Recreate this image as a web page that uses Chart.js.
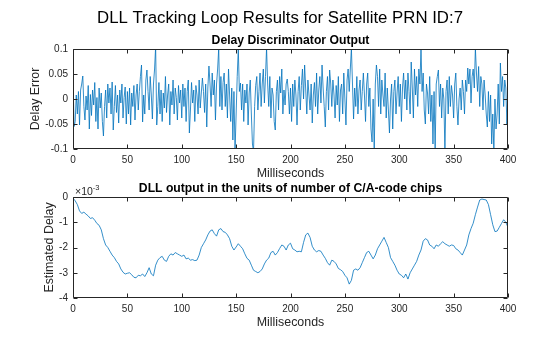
<!DOCTYPE html>
<html lang="en">
<head>
<meta charset="UTF-8">
<title>DLL Tracking Loop Results</title>
<script src="https://cdn.jsdelivr.net/npm/chart.js"></script>
<style>
    body {
        margin: 0;
        background: #fff;
        font-family: "Liberation Sans", Arial, sans-serif;
    }
    .figure {
        position: relative;
        width: 560px;
        height: 337px;
        background: #fff;
    }
    canvas {
        position: absolute;
        left: 0;
    }
    #discChart { top: 0; }
    #delayChart { top: 180px; }
</style>
</head>
<body>
<div class="figure">
    <canvas id="discChart" width="560" height="180"></canvas>
    <canvas id="delayChart" width="560" height="157"></canvas>
</div>

<script>
// sample times, ms
const discTimeMs = Array.from({ length: 401 }, (_, i) => i);      // every ms
const delayTimeMs = Array.from({ length: 201 }, (_, i) => i * 2); // every 2 ms

// delay discriminator output, one value per ms
const discriminator = [
    0.045, -0.055, -0.045, 0.008, -0.03, 0.015, -0.052, 0.018, 0.03, 0.046, -0.015, -0.042, 0.006, -0.022, 0.027, -0.06, 0.009, -0.033, 0.018, -0.012,
    0.033, -0.045, 0.003, -0.06, 0.022, -0.018, 0.012, -0.045, -0.074, -0.015, 0.018, -0.038, 0.03, -0.008, 0.022, -0.03, 0.034, -0.062, -0.015, 0.027,
    -0.027, 0.008, -0.048, 0.018, -0.008, 0.03, -0.038, 0.003, 0.024, -0.05, 0.015, -0.03, 0.022, -0.052, 0.012, -0.015, 0.027, -0.042, 0.008, 0.03,
    -0.022, 0.015, 0.045, 0.068, -0.046, 0.008, -0.03, 0.038, 0.058, 0.015, -0.022, 0.045, 0.008, -0.04, 0.03, 0.06, 0.105, -0.052, -0.015, 0.033,
    -0.03, 0.018, -0.045, 0.012, -0.018, 0.045, -0.027, 0.008, 0.03, -0.052, 0.015, -0.012, 0.038, -0.03, 0.022, 0.003, -0.042, 0.027, -0.008, 0.018,
    -0.038, 0.03, -0.015, 0.022, -0.045, 0.015, 0.038, -0.068, -0.022, 0.033, -0.008, 0.018, -0.045, 0.027, 0.008, -0.03, 0.038, -0.018, 0.012, 0.042,
    0.015, -0.027, 0.03, -0.056, 0.022, 0.066, 0.03, -0.015, 0.052, 0.008, 0.038, -0.042, 0.03, 0.06, 0.102, -0.015, 0.045, -0.022, 0.033, 0.052,
    -0.015, 0.03, -0.038, 0.06, 0.008, -0.045, 0.022, -0.082, 0.015, -0.105, -0.03, 0.045, 0.1, 0.015, 0.032, -0.022, 0.03, -0.045, 0.018, -0.008,
    0.03, -0.052, 0.012, 0.038, -0.03, -0.09, -0.105, -0.015, 0.027, 0.045, -0.022, 0.015, 0.052, -0.015, 0.03, 0.06, -0.008, 0.045, 0.102, 0.03,
    -0.015, 0.045, -0.038, 0.022, 0.008, -0.045, -0.062, 0.015, 0.038, -0.022, 0.045, 0.012, 0.06, -0.03, 0.018, -0.012, 0.03, 0.04, 0.015, -0.03,
    0.022, -0.045, 0.03, -0.015, 0.038, 0.008, -0.052, 0.015, 0.045, -0.022, 0.027, 0.06, 0.0, 0.068, 0.018, -0.03, 0.038, 0.008, -0.022, 0.03,
    -0.048, 0.008, 0.033, -0.015, 0.052, -0.03, 0.018, 0.045, -0.008, 0.068, 0.022, -0.015, -0.056, 0.015, 0.045, -0.022, 0.058, 0.03, -0.015, 0.038,
    0.008, -0.038, 0.027, -0.012, 0.045, -0.045, 0.018, 0.03, -0.03, 0.052, 0.0, -0.052, 0.038, 0.06, 0.015, 0.06, 0.102, 0.03, -0.04, 0.022,
    -0.015, 0.045, -0.03, 0.018, 0.038, -0.022, 0.015, 0.052, 0.008, -0.045, 0.03, 0.052, -0.015, 0.022, -0.06, -0.086, 0.0, -0.105, 0.03, 0.068,
    0.045, -0.015, 0.06, -0.03, 0.038, 0.008, -0.015, 0.052, -0.038, 0.022, -0.022, -0.068, 0.0, 0.03, -0.06, 0.015, 0.038, -0.03, 0.012, 0.045,
    -0.015, 0.03, -0.045, 0.022, 0.052, 0.0, 0.038, -0.022, 0.052, 0.015, -0.03, 0.074, 0.022, -0.038, 0.06, 0.008, 0.045, -0.015, 0.06, 0.03,
    0.102, 0.015, 0.052, -0.022, -0.05, 0.03, 0.012, -0.03, 0.045, -0.045, 0.008, -0.09, 0.015, -0.105, 0.03, 0.045, 0.058, -0.015, 0.03, -0.038,
    0.022, 0.0, -0.105, 0.015, 0.038, -0.03, 0.045, -0.015, 0.027, 0.008, -0.038, 0.03, 0.052, -0.015, -0.052, 0.0, 0.022, -0.022, 0.038, 0.015,
    -0.03, 0.038, 0.015, 0.062, 0.03, 0.06, -0.008, 0.045, 0.06, 0.022, 0.102, 0.052, 0.015, 0.065, -0.015, 0.045, 0.03, -0.022, 0.038, 0.008,
    -0.03, -0.056, 0.015, -0.045, 0.008, -0.09, -0.03, -0.105, 0.0, -0.06, -0.03, 0.03, -0.05, 0.072, 0.015, 0.045, -0.015, 0.038, 0.022, -0.05,
    0.0
];

// DLL output, units of 1e-3 chips, one value per 2 ms
const dllOutput = [
    -0.05, -0.15, -0.3, -0.55, -0.65, -0.6, -0.68, -0.75, -0.85, -0.82,
    -0.92, -1.05, -1.12, -1.3, -1.65, -1.9, -2.0, -2.15, -2.3, -2.4,
    -2.55, -2.65, -2.85, -2.98, -3.05, -3.02, -3.0, -3.08, -3.18, -3.2,
    -3.1, -3.12, -3.05, -3.15, -3.0, -2.8, -3.05, -3.12, -2.7, -2.5,
    -2.4, -2.35, -2.5, -2.55, -2.35, -2.25, -2.3, -2.2, -2.25, -2.3,
    -2.35, -2.3, -2.45, -2.42, -2.5, -2.48, -2.52, -2.5, -2.3, -2.0,
    -1.85, -1.7, -1.5, -1.35, -1.3, -1.45, -1.55, -1.3, -1.25, -1.37,
    -1.4, -1.5, -1.65, -1.95, -2.1, -1.98, -1.85, -1.95, -2.05, -2.25,
    -2.43, -2.5, -2.7, -2.9, -2.95, -3.0, -2.95, -2.85, -2.65, -2.5,
    -2.42, -2.2, -2.15, -2.3, -2.2, -2.04, -1.9, -1.95, -2.1, -1.9,
    -1.83, -2.05, -2.1, -2.17, -2.15, -2.17, -1.8, -1.5, -1.43, -1.6,
    -1.95, -2.1, -2.17, -2.12, -2.15, -2.3, -2.43, -2.6, -2.7, -2.5,
    -2.55, -2.65, -2.83, -2.88, -2.95, -3.1, -3.2, -3.45, -3.3, -2.9,
    -2.85, -2.9, -2.8, -2.6, -2.4, -2.2, -2.15, -2.3, -2.45, -2.3,
    -2.05, -1.9, -1.75, -1.6, -1.8, -2.0, -2.4, -2.55, -2.7, -2.9,
    -3.05, -3.1, -3.2, -3.05, -3.25, -3.0, -2.85, -2.7, -2.55, -2.3,
    -2.1, -1.75, -1.65, -1.7, -1.9, -1.95, -2.05, -1.9, -1.95, -1.85,
    -1.77, -1.85, -1.9, -1.95, -1.9, -1.92, -2.05, -2.1, -2.2, -2.3,
    -2.1, -1.9, -1.5, -1.25, -1.04, -0.7, -0.4, -0.12, -0.08, -0.1,
    -0.12, -0.3, -0.7, -1.1, -1.37, -1.35, -1.2, -1.05, -0.9, -1.0,
    -1.2
];

const xTicks = [0, 50, 100, 150, 200, 250, 300, 350, 400];
const discTicks = [-0.1, -0.05, 0, 0.05, 0.1];
const delayTicks = [-4, -3, -2, -1, 0];

const FONT = '"Liberation Sans", Arial, sans-serif';
const TEXT = '#262626';

// axes box, inward ticks and all the labels, MATLAB style
const matlabBox = {
    id: 'matlabBox',
    afterDraw(chart, args, opts) {
        const { ctx, chartArea: a, scales } = chart;
        const l = Math.round(a.left) + 0.5, r = Math.round(a.right) - 0.5;
        const t = Math.round(a.top) + 0.5, b = Math.round(a.bottom) - 0.5;
        ctx.save();
        ctx.strokeStyle = TEXT;
        ctx.lineWidth = 1;
        ctx.beginPath();
        ctx.rect(l, t, r - l, b - t);
        scales.x.ticks.forEach(tk => {
            const px = Math.round(scales.x.getPixelForValue(tk.value)) + 0.5;
            ctx.moveTo(px, b); ctx.lineTo(px, b - 4);
            ctx.moveTo(px, t); ctx.lineTo(px, t + 4);
        });
        scales.y.ticks.forEach(tk => {
            const py = Math.round(scales.y.getPixelForValue(tk.value)) + 0.5;
            ctx.moveTo(l, py); ctx.lineTo(l + 4, py);
            ctx.moveTo(r, py); ctx.lineTo(r - 4, py);
        });
        ctx.stroke();

        const cx = (a.left + a.right) / 2;
        ctx.textAlign = 'center';
        ctx.textBaseline = 'middle';

        if (opts.supTitle) {
            ctx.fillStyle = '#000';
            ctx.font = '16.8px ' + FONT;
            ctx.fillText(opts.supTitle, 280, 18);
        }
        ctx.fillStyle = '#000';
        ctx.font = 'bold 12.2px ' + FONT;
        ctx.fillText(opts.title, cx, a.top - 8);

        ctx.fillStyle = TEXT;
        ctx.font = '12.4px ' + FONT;
        ctx.fillText(opts.xLabel, cx, a.bottom + 25);

        ctx.save();
        ctx.translate(opts.yLabelX, (a.top + a.bottom) / 2);
        ctx.rotate(-Math.PI / 2);
        ctx.fillText(opts.yLabel, 0, 0);
        ctx.restore();

        if (opts.exponent) {
            ctx.textAlign = 'left';
            ctx.textBaseline = 'alphabetic';
            ctx.font = '10.5px ' + FONT;
            ctx.fillText('\u00d710', a.left + 2, a.top - 2);
            const w = ctx.measureText('\u00d710').width;
            ctx.font = '7.5px ' + FONT;
            ctx.fillText(opts.exponent, a.left + 2 + w, a.top - 7);
        }
        ctx.restore();
    }
};

function makeChart(id, times, values, yMin, yMax, yTicks, yFmt, padTop, xAxisH, box) {
    return new Chart(document.getElementById(id), {
        type: 'line',
        data: {
            datasets: [{
                data: values.map((v, i) => ({ x: times[i], y: v })),
                borderColor: '#0072BD',
                borderWidth: 0.8,
                pointRadius: 0,
                tension: 0,
                fill: false
            }]
        },
        options: {
            responsive: false,
            animation: false,
            events: [],
            layout: { padding: { top: padTop, right: 52, left: 0, bottom: 0 } },
            plugins: {
                legend: { display: false },
                tooltip: { enabled: false },
                matlabBox: box
            },
            scales: {
                x: {
                    type: 'linear',
                    min: 0,
                    max: 400,
                    grid: { display: false, drawTicks: false, tickLength: 0 },
                    border: { display: false },
                    afterBuildTicks: s => { s.ticks = xTicks.map(v => ({ value: v })); },
                    afterFit: s => { s.height = xAxisH; },
                    ticks: {
                        color: TEXT,
                        padding: 5,
                        maxRotation: 0,
                        font: { family: FONT, size: 10 }
                    }
                },
                y: {
                    min: yMin,
                    max: yMax,
                    grid: { display: false, drawTicks: false, tickLength: 0 },
                    border: { display: false },
                    afterBuildTicks: s => { s.ticks = yTicks.map(v => ({ value: v })); },
                    afterFit: s => { s.width = 73; },
                    ticks: {
                        color: TEXT,
                        padding: 5,
                        font: { family: FONT, size: 10 },
                        callback: yFmt
                    }
                }
            }
        },
        plugins: [matlabBox]
    });
}

makeChart('discChart', discTimeMs, discriminator, -0.1, 0.1, discTicks,
    v => String(Math.round(v * 100) / 100), 49, 31, {
        supTitle: 'DLL Tracking Loop Results for Satellite PRN ID:7',
        title: 'Delay Discriminator Output',
        xLabel: 'Milliseconds',
        yLabel: 'Delay Error',
        yLabelX: 36
    });

makeChart('delayChart', delayTimeMs, dllOutput, -4, 0, delayTicks,
    v => String(Math.round(v)), 17, 39, {
        title: 'DLL output in the units of number of C/A-code chips',
        xLabel: 'Milliseconds',
        yLabel: 'Estimated Delay',
        yLabelX: 50,
        exponent: '-3'
    });
</script>
</body>
</html>
